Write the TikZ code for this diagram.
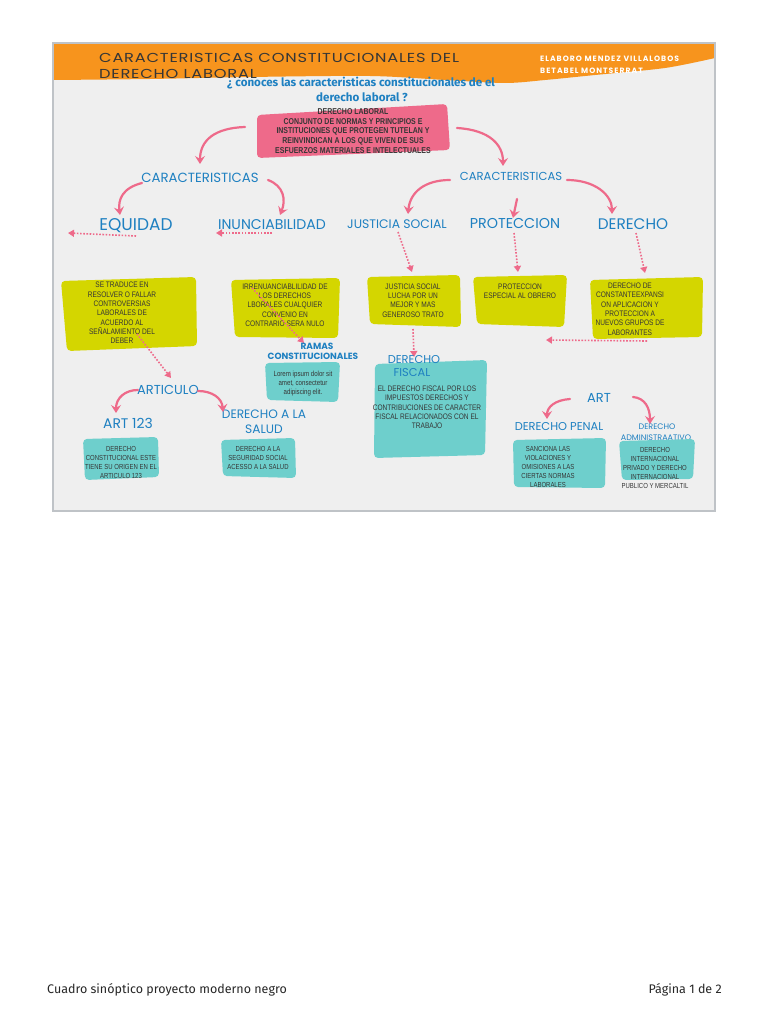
\documentclass[tikz,border=0pt]{standalone}
\usepackage{fontspec}
\setmainfont{Liberation Sans}
\newfontfamily\titlefont[FakeStretch=1.25,LetterSpace=6]{Poppins}
\newfontfamily\headfont{Poppins}
\newfontfamily\authfont[LetterSpace=13]{Poppins}
\newfontfamily\qfont{Fira Sans}
\newfontfamily\footfont{Fira Sans}
\newfontfamily\condfont[FakeStretch=0.82]{Liberation Sans}
\usetikzlibrary{arrows.meta}
\definecolor{orangeH}{HTML}{F7941D}
\definecolor{slidebg}{HTML}{EFEFEF}
\definecolor{slideborder}{HTML}{BFC3C7}
\definecolor{pinkA}{HTML}{EE6A8A}
\definecolor{yellowB}{HTML}{D4D600}
\definecolor{tealB}{HTML}{6ECFCC}
\definecolor{blueH}{HTML}{1E80C1}
\definecolor{textD}{HTML}{363636}
\newcommand\blob[5]{\fill[#1,rounded corners=4pt] #2 -- #3 -- #4 -- #5 -- cycle;}
\tikzset{
  head/.style={text=blueH, inner sep=0pt, font=\headfont\fontsize{#1}{#1}\selectfont},
  btxt/.style={align=center, text=textD, inner sep=0pt, font=\condfont\fontsize{8}{9.3}\selectfont},
  ptxt/.style={align=center, text=textD, inner sep=0pt, font=\condfont\bfseries\fontsize{8.5}{9.6}\selectfont},
  ttxt/.style={align=center, text=textD, inner sep=0pt, font=\condfont\fontsize{7.3}{9}\selectfont},
  curvarrow/.style={pinkA, line width=2.2pt, line cap=round, -{Stealth[length=8pt,width=10pt,inset=3pt]}},
  dotarrow/.style={pinkA, line width=1.6pt, dash pattern=on 1.6pt off 1.6pt, -{Triangle[length=6pt,width=7pt]}},
}
\begin{document}
\begin{tikzpicture}[x=1pt,y=-1pt]
\useasboundingbox (0,0) rectangle (768,1024);
\fill[white] (0,0) rectangle (768,1024);
% slide
\fill[slidebg] (53,43) rectangle (715,511);
\fill[orangeH] (53,43) -- (715,43) -- (715,58) -- plot[smooth] coordinates {(715,58) (665,68) (595,75) (545,80) (505,83) (445,80) (370,76) (250,77) (150,79) (53,80)} -- cycle;
\draw[slideborder, line width=1.6pt] (53,43) rectangle (715,511);
% title
\node[anchor=west, text=textD, inner sep=0pt, font=\titlefont\fontsize{13}{13}\selectfont] (t1) at (99,58) {CARACTERISTICAS CONSTITUCIONALES DEL};
\node[anchor=west, text=textD, inner sep=0pt, font=\titlefont\fontsize{13}{13}\selectfont] (t2) at (99,74) {DERECHO LABORAL};
\node[anchor=west, text=white, inner sep=0pt, font=\authfont\bfseries\fontsize{7.7}{7.7}\selectfont] (au1) at (540,59) {ELABORO MENDEZ VILLALOBOS};
\node[anchor=west, text=white, inner sep=0pt, font=\authfont\bfseries\fontsize{7.7}{7.7}\selectfont] (au2) at (540,71) {BETABEL MONTSERRAT};
% question
\node[text=blueH, inner sep=0pt, font=\qfont\bfseries\fontsize{11.6}{11.6}\selectfont] (q1) at (361,83) {¿ conoces las caracteristicas constitucionales de el};
\node[text=blueH, inner sep=0pt, font=\qfont\bfseries\fontsize{11.6}{11.6}\selectfont] (q2) at (362,97) {derecho laboral ?};
% pink box
\blob{pinkA}{(257,115)}{(447,104)}{(450,150)}{(257,158)}
\node[ptxt] (dl) at (353,131) {DERECHO LABORAL\\CONJUNTO DE NORMAS Y PRINCIPIOS E\\INSTITUCIONES QUE PROTEGEN TUTELAN Y\\REINVINDICAN A LOS QUE VIVEN  DE SUS\\ESFUERZOS  MATERIALES E INTELECTUALES};
% caracteristicas
\node[head=13.3] (carL) at (200,178) {CARACTERISTICAS};
\node[head=11.6] (carR) at (511,176) {CARACTERISTICAS};
\node[head=17] (equ) at (136,226) {EQUIDAD};
\node[head=14.1] (inu) at (272,225) {INUNCIABILIDAD};
\node[head=12.4] (jus) at (397,224) {JUSTICIA SOCIAL};
\node[head=14.3] (pro) at (515,224) {PROTECCION};
\node[head=15.3] (der) at (633,224) {DERECHO};
% arrow points
\coordinate (dlL) at (245,127); \coordinate (carLt) at (200,164);
\coordinate (dlR) at (457,128); \coordinate (carRt) at (503,166);
\draw[curvarrow] (dlL) .. controls (215,128) and (200,140) .. (carLt);
\draw[curvarrow] (dlR) .. controls (490,130) and (503,145) .. (carRt);
\coordinate (cLa) at (142,183); \coordinate (equT) at (120,215);
\coordinate (cLb) at (268,180); \coordinate (inuT) at (280,215);
\draw[curvarrow] (cLa) .. controls (122,188) and (118,200) .. (equT);
\draw[curvarrow] (cLb) .. controls (284,186) and (286,200) .. (inuT);
\coordinate (cRa) at (450,180); \coordinate (jusT) at (408,214);
\coordinate (cRb) at (517,199); \coordinate (proT) at (513,218);
\coordinate (cRc) at (567,180); \coordinate (derT) at (612,214);
\draw[curvarrow] (cRa) .. controls (425,180) and (410,192) .. (jusT);
\draw[curvarrow] (cRb) -- (proT);
\draw[curvarrow] (cRc) .. controls (595,180) and (612,195) .. (derT);
% dotted arrows top
\coordinate (equD) at (136,236); \coordinate (equE) at (68,233);
\coordinate (inuD) at (272,233); \coordinate (inuE) at (216,233);
\coordinate (jusD) at (398,232); \coordinate (jusE) at (412,272);
\coordinate (proD) at (514,233); \coordinate (proE) at (518,272);
\coordinate (derD) at (636,233); \coordinate (derE) at (645,273);
\draw[dotarrow] (equD) -- (equE);
\draw[dotarrow] (inuD) -- (inuE);
\draw[dotarrow] (jusD) -- (jusE);
\draw[dotarrow] (proD) -- (proE);
\draw[dotarrow] (derD) -- (derE);
% yellow boxes
\blob{yellowB}{(61,281)}{(196,277)}{(197,346)}{(67,351)}
\blob{yellowB}{(231,280)}{(340,278)}{(338,338)}{(235,337)}
\blob{yellowB}{(367,277)}{(460,275)}{(461,327)}{(370,324)}
\blob{yellowB}{(473,277)}{(567,275)}{(564,327)}{(477,324)}
\blob{yellowB}{(590,280)}{(703,277)}{(702,337)}{(593,339)}
\node[btxt] (y1) at (122,313) {SE TRADUCE  EN\\RESOLVER O FALLAR\\CONTROVERSIAS\\LABORALES DE\\ACUERDO  AL\\SEÑALAMIENTO DEL\\DEBER};
\node[btxt] (y2) at (285,305) {IRRENUANCIABLILIDAD DE\\LOS DERECHOS\\LBORALES CUALQUIER\\CONVENIO EN\\CONTRARIO SERA NULO};
\node[btxt] (y3) at (413,300.5) {JUSTICIA SOCIAL\\LUCHA POR UN\\MEJOR Y MAS\\GENEROSO TRATO};
\node[btxt] (y4) at (520,291.5) {PROTECCION\\ESPECIAL AL OBRERO};
\node[btxt] (y5) at (630,309) {DERECHO DE\\CONSTANTEEXPANSI\\ON APLICACION Y\\PROTECCION A\\NUEVOS GRUPOS DE\\LABORANTES};
% dotted arrows middle
\coordinate (y5D) at (647,341); \coordinate (y5E) at (546,340);
\coordinate (y1D) at (137,334); \coordinate (y1E) at (171,378);
\coordinate (y2D) at (252,288); \coordinate (y2E) at (304,343);
\coordinate (y3D) at (413,329); \coordinate (y3E) at (414,357);
\draw[dotarrow] (y5D) -- (y5E);
\draw[dotarrow] (y1D) -- (y1E);
\draw[dotarrow] (y2D) -- (y2E);
\draw[dotarrow] (y3D) -- (y3E);
% ramas
\node[head=9, font=\headfont\bfseries\fontsize{9}{9}\selectfont] (ram1) at (317,346) {RAMAS};
\node[head=9, font=\headfont\bfseries\fontsize{9}{9}\selectfont] (ram2) at (313,356) {CONSTITUCIONALES};
\blob{tealB}{(265,363)}{(340,362)}{(338,402)}{(267,400)}
\node[ttxt, font=\condfont\fontsize{7.5}{8.6}\selectfont] (lor) at (303,383.5) {Lorem ipsum dolor sit\\amet, consectetur\\adipiscing elit.};
% fiscal
\blob{tealB}{(375,364)}{(487,360)}{(485,455)}{(374,458)}
\node[head=11.4] (fis1) at (414,360) {DERECHO};
\node[head=11.4] (fis2) at (412,373) {FISCAL};
\node[btxt] (fis) at (427,407.5) {EL DERECHO FISCAL POR LOS\\IMPUESTOS DERECHOS Y\\CONTRIBUCIONES DE CARACTER\\FISCAL RELACIONADOS CON EL\\TRABAJO};
% articulo
\node[head=13] (art) at (168,390) {ARTICULO};
\node[head=13.9] (a123) at (128,423) {ART 123};
\node[head=12.2, align=center, font=\headfont\fontsize{12.2}{14.5}\selectfont] (sal) at (264,421.5) {DERECHO A LA\\SALUD};
\coordinate (artA) at (138,390); \coordinate (a123T) at (116,413);
\coordinate (artB) at (198,391); \coordinate (salT) at (223,412);
\draw[curvarrow] (artA) .. controls (125,390) and (116,398) .. (a123T);
\draw[curvarrow] (artB) .. controls (212,391) and (222,398) .. (salT);
\blob{tealB}{(83,439)}{(158,437)}{(159,477)}{(85,480)}
\blob{tealB}{(221,440)}{(295,438)}{(296,478)}{(223,476)}
\node[ttxt] (a123b) at (121,462.5) {DERECHO\\CONSTITUCIONAL  ESTE\\TIENE SU ORIGEN EN EL\\ARTICULO 123};
\node[ttxt] (salb) at (258,458) {DERECHO A LA\\SEGURIDAD SOCIAL\\ACESSO A LA SALUD};
% ART
\node[head=13] (artR) at (599,398) {ART};
\node[head=11.4] (pen) at (559,427) {DERECHO PENAL};
\node[head=8] (adm1) at (657,427) {DERECHO};
\node[head=8] (adm2) at (656,438) {ADMINISTRAATIVO};
\coordinate (artRa) at (570,399); \coordinate (penT) at (547,419);
\coordinate (artRb) at (633,397); \coordinate (admT) at (650,424);
\draw[curvarrow] (artRa) .. controls (555,400) and (547,407) .. (penT);
\draw[curvarrow] (artRb) .. controls (645,398) and (650,408) .. (admT);
\blob{tealB}{(513,440)}{(606,438)}{(605,488)}{(514,487)}
\blob{tealB}{(619,441)}{(695,439)}{(693,479)}{(622,480)}
\node[ttxt] (penb) at (548,466.5) {SANCIONA LAS\\VIOLACIONES Y\\OMISIONES A LAS\\CIERTAS NORMAS\\LABORALES};
\node[ttxt] (admb) at (655,467.5) {DERECHO\\INTERNACIONAL\\PRIVADO Y DERECHO\\INTERNACIONAL\\PUBLICO Y MERCALTIL};
% footer
\node[anchor=base west, inner sep=0pt, text=black!85, font=\footfont\fontsize{12.5}{12.5}\selectfont] (f1) at (47,993) {Cuadro sinóptico proyecto moderno negro};
\node[anchor=base east, inner sep=0pt, text=black!85, font=\footfont\fontsize{12.5}{12.5}\selectfont] (f2) at (722,993) {Página 1 de 2};
\end{tikzpicture}
\end{document}
